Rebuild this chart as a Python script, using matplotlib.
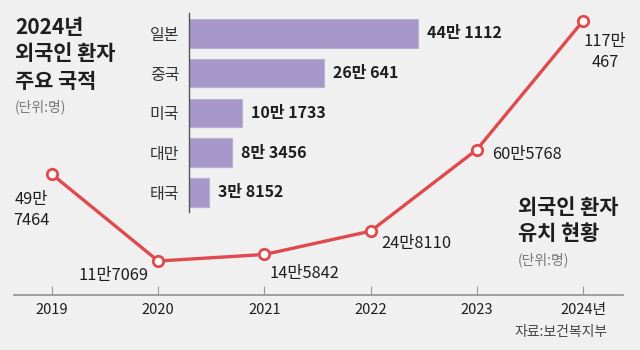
import matplotlib
matplotlib.use("Agg")
import matplotlib.pyplot as plt

plt.rcParams['font.family'] = ['Noto Sans CJK KR', 'DejaVu Sans']

# ---- data ----
years = ["2019", "2020", "2021", "2022", "2023", "2024년"]
patients = [497464, 117069, 145842, 248110, 605768, 1170467]

countries = ["일본", "중국", "미국", "대만", "태국"]
country_patients = [441112, 260641, 101733, 83456, 38152]

BG = "#f0f0f0"
RED = "#e04a4d"
PURPLE = "#a699c9"
DARK = "#1e1e1e"
GRAY = "#777777"

W, H = 640, 350
fig = plt.figure(figsize=(6.4, 3.5), dpi=100, facecolor=BG)


def fx(px):
    return px / W


def fy(py):
    return 1 - py / H


def man(v, sep=""):
    return f"{v // 10000}만{sep}{v % 10000}"


# ---- line chart ----
ax = fig.add_axes([fx(14), fy(295), fx(623 - 14), (295 - 0) / H])
ax.set_facecolor("none")
xs = list(range(len(years)))
ax.plot(xs, patients, color=RED, lw=2.4, zorder=3, solid_capstyle="round")
ax.plot(xs, patients, ls="none", marker="o", ms=7.5, mfc="white",
        mec=RED, mew=2.0, zorder=4)
ax.set_xlim(-0.358, 5.377)
ax.set_ylim(-32000, 1262639)
ax.set_xticks(xs)
ax.set_xticklabels(years, fontsize=10.5, color=DARK)
ax.tick_params(axis="x", direction="in", length=6.5, width=0.8,
               color="#999999", pad=6)
ax.set_yticks([])
for s in ["top", "left", "right"]:
    ax.spines[s].set_visible(False)
ax.spines["bottom"].set_color("#999999")
ax.spines["bottom"].set_linewidth(1.3)

# point labels (offsets in pixels)
offsets = [(-39, -36, "left"), (-10, -14, "right"), (5, -19, "left"),
           (11, -12, "left"), (15, -5, "left"), (22, -31, "center")]
multiline = [True, False, False, False, False, True]
for i, (v, (dx, dy, ha), ml) in enumerate(zip(patients, offsets, multiline)):
    txt = man(v, "\n") if ml else man(v)
    ax.annotate(txt, (xs[i], v), xytext=(dx, dy), textcoords="offset pixels",
                ha=ha, va="center", fontsize=11.8, color=DARK,
                linespacing=1.3, multialignment="center", zorder=5)

# ---- bar chart ----
bx = fig.add_axes([fx(189), fy(212), 249 / W, (212 - 13) / H])
bx.set_facecolor("none")
ypos = list(range(len(countries)))
bars = bx.barh(ypos, country_patients, height=0.72, color=PURPLE,
               edgecolor="#b9afd6", linewidth=0.8)
bx.set_xlim(0, 480000)
bx.set_ylim(4.49, -0.51)
bx.set_yticks(ypos)
bx.set_yticklabels(countries, fontsize=11.5, color="#333333")
bx.tick_params(axis="y", length=0, pad=7)
bx.set_xticks([])
for s in ["top", "bottom", "right"]:
    bx.spines[s].set_visible(False)
bx.spines["left"].set_color("#555555")
bx.spines["left"].set_linewidth(1.0)
bx.bar_label(bars, labels=[man(v, " ") for v in country_patients],
             padding=6.5, fontsize=11.5, fontweight="bold", color=DARK)

# ---- titles / notes ----
for txt, y in [("2024년", 27.5), ("외국인 환자", 54), ("주요 국적", 81)]:
    fig.text(fx(15), fy(y), txt, fontsize=15, fontweight="bold",
             color=DARK, va="center", ha="left")
fig.text(fx(15), fy(107), "(단위:명)", fontsize=10, color=GRAY,
         va="center", ha="left")

for txt, y in [("외국인 환자", 207), ("유치 현황", 233)]:
    fig.text(fx(518), fy(y), txt, fontsize=15, fontweight="bold",
             color=DARK, va="center", ha="left")
fig.text(fx(518), fy(260), "(단위:명)", fontsize=10, color=GRAY,
         va="center", ha="left")

fig.text(fx(608), fy(332), "자료:보건복지부", fontsize=10, color="#444444",
         va="center", ha="right")

fig.savefig("out.png", dpi=100, facecolor=BG)
